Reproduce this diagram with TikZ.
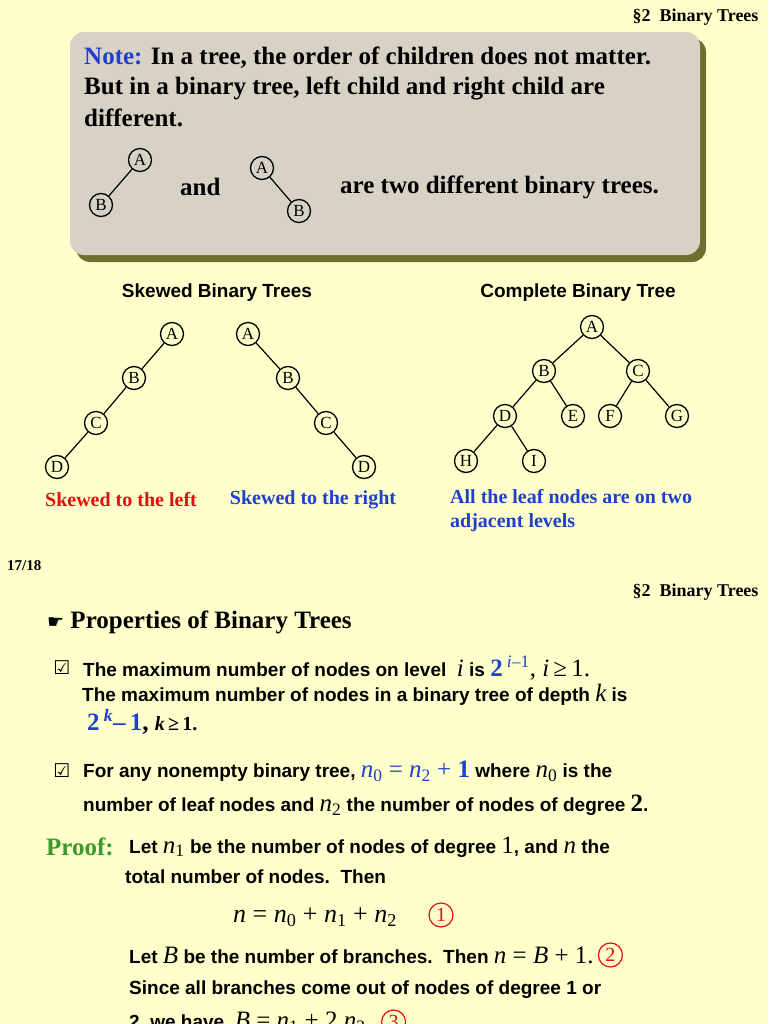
\documentclass[tikz,border=0pt]{standalone}
\usepackage{fontspec}
\setmainfont{Liberation Serif}
\setsansfont{Liberation Sans}
\newfontfamily\dejavu{DejaVu Sans}
\usetikzlibrary{positioning}
\definecolor{bgy}{HTML}{FFFFCC}
\definecolor{boxg}{HTML}{D8D2C6}
\definecolor{shad}{HTML}{6E6E2E}
\definecolor{tblue}{HTML}{1F3FD0}
\definecolor{tred}{HTML}{E01010}
\definecolor{tgreen}{HTML}{3C9A2C}
\newcommand\nsub[1]{\textit{n}\textsubscript{#1}}
\newcommand\mth{\rmfamily\mdseries\fontsize{25}{25}\selectfont}
\tikzset{
  tn/.style={circle,draw,line width=1.3pt,inner sep=0pt,minimum size=23pt,font=\fontsize{17}{17}\selectfont},
  ed/.style={line width=1.2pt},
  serb/.style={font=\fontsize{25}{27}\selectfont\bfseries,inner sep=1pt},
  sanb/.style={font=\sffamily\bfseries\fontsize{19}{21}\selectfont,inner sep=1pt},
  lab/.style={font=\bfseries\fontsize{20}{22}\selectfont},
  hdr/.style={font=\fontsize{18}{19}\selectfont\bfseries,anchor=east},
  cnum/.style={circle,draw=tred,text=tred,line width=1.2pt,inner sep=0pt,minimum size=24pt,font=\fontsize{20}{20}\selectfont}
}
\begin{document}
\begin{tikzpicture}[x=1pt,y=-1pt]
\fill[bgy] (0,0) rectangle (768,1024);
\clip (0,0) rectangle (768,1024);
\node[hdr] (h1) at (762,17) {§2\ \ Binary Trees};
\fill[shad,rounded corners=14pt] (76,38) rectangle (706,262);
\fill[boxg,rounded corners=14pt] (70,32) rectangle (700,255);
\node[serb,anchor=west] (l1) at (83,58) {\textcolor{tblue}{Note:} In a tree, the order of children does not matter.};
\node[serb,anchor=west] (l2) at (83,88) {But in a binary tree, left child and right child are};
\node[serb,anchor=west] (l3) at (83,118) {different.};
\node[tn] (a1) at (140,160) {A};
\node[tn] (b1) at (101,205) {B};
\draw[ed] (a1) -- (b1);
\node[serb,anchor=west] (and) at (179,187) {and};
\node[tn] (a2) at (262,168) {A};
\node[tn] (b2) at (299,211) {B};
\draw[ed] (a2) -- (b2);
\node[serb,anchor=west] (are) at (339,187) {are two different binary trees.};
\node[font=\sffamily\bfseries\fontsize{19}{21}\selectfont] (st) at (217,293) {Skewed Binary Trees};
\node[font=\sffamily\bfseries\fontsize{19}{21}\selectfont] (ct) at (578,293) {Complete Binary Tree};
\node[tn] (la) at (172,334) {A};
\node[tn] (lb) at (134,378) {B};
\node[tn] (lc) at (96,423) {C};
\node[tn] (ld) at (57,467) {D};
\draw[ed] (la)--(lb) (lb)--(lc) (lc)--(ld);
\node[tn] (ra) at (248,334) {A};
\node[tn] (rb) at (288,378) {B};
\node[tn] (rc) at (326,423) {C};
\node[tn] (rd) at (364,467) {D};
\draw[ed] (ra)--(rb) (rb)--(rc) (rc)--(rd);
\node[tn] (cA) at (592,327) {A};
\node[tn] (cB) at (544,371) {B};
\node[tn] (cC) at (638,371) {C};
\node[tn] (cD) at (505,416) {D};
\node[tn] (cE) at (573,416) {E};
\node[tn] (cF) at (610,416) {F};
\node[tn] (cG) at (677,416) {G};
\node[tn] (cH) at (466,461) {H};
\node[tn] (cI) at (534,461) {I};
\draw[ed] (cA)--(cB) (cA)--(cC) (cB)--(cD) (cB)--(cE) (cC)--(cF) (cC)--(cG) (cD)--(cH) (cD)--(cI);
\node[lab,text=tred] (sl) at (121,500) {Skewed to the left};
\node[lab,text=tblue] (sr) at (313,500) {Skewed to the right};
\node[lab,text=tblue,anchor=west,inner sep=1pt] (al1) at (449,497) {All the leaf nodes are on two};
\node[lab,text=tblue,anchor=west,inner sep=1pt] (al2) at (449,523) {adjacent levels};
\node[font=\bfseries\fontsize{15}{16}\selectfont,anchor=west,inner sep=1pt] (pg) at (6,566) {17/18};
\node[hdr] (h2) at (762,592) {§2\ \ Binary Trees};
\node[serb,anchor=west] (pt) at (46,622) {{\dejavu\mdseries\fontsize{19}{19}\selectfont ☛} Properties of Binary Trees};
\node[font=\dejavu\fontsize{19}{19}\selectfont] (cb1) at (62,668) {☑};
\node[sanb,anchor=west] (p1) at (82,668) {The maximum number of nodes on level \ {\mth\itshape i} is {\mth\textcolor{tblue}{\bfseries 2}\,\textsuperscript{\textcolor{tblue}{\itshape i}\textcolor{tblue}{–1}}, \textit{i}\,≥\,1.}};
\node[sanb,anchor=west] (p2) at (81,695) {The maximum number of nodes in a binary tree of depth {\mth\itshape k} is};
\node[anchor=west,inner sep=1pt,font=\bfseries\fontsize{25}{25}\selectfont] (p3) at (86,722) {\textcolor{tblue}{2\,\textsuperscript{\itshape k}–\,1},\ {\fontsize{20}{20}\selectfont\textit{k}\,≥\,1.}};
\node[font=\dejavu\fontsize{19}{19}\selectfont] (cb2) at (62,771) {☑};
\node[sanb,anchor=west] (p4) at (82,771) {For any nonempty binary tree, {\mth\textcolor{tblue}{\nsub{0} = \nsub{2} + \textbf{1}}} where {\mth\nsub{0}} is the};
\node[sanb,anchor=west] (p5) at (82,805) {number of leaf nodes and {\mth\nsub{2}} the number of nodes of degree {\mth\bfseries 2}.};
\node[serb,anchor=west,text=tgreen] (pf) at (45,847) {Proof:};
\node[sanb,anchor=west] (p6) at (128,847) {Let {\mth\nsub{1}} be the number of nodes of degree {\mth 1}, and {\mth\textit{n}} the};
\node[sanb,anchor=west] (p7) at (124,877) {total number of nodes.\ \ Then};
\node[anchor=west,inner sep=1pt,font=\fontsize{26}{26}\selectfont] (eq1) at (232,917) {\textit{n} = \nsub{0} + \nsub{1} + \nsub{2}};
\node[cnum] (c1) at (441,915) {1};
\node[sanb,anchor=west] (p8) at (128,955) {Let {\mth\textit{B}} be the number of branches.\ \ Then {\mth\textit{n} = \textit{B} + 1.}};
\node[cnum,right=3pt of p8] (c2) {2};
\node[sanb,anchor=west] (p9) at (128,990) {Since all branches come out of nodes of degree 1 or};
\node[sanb,anchor=west] (p10) at (128,1022) {2, we have \ {\mth\textit{B} = \nsub{1} + 2 \nsub{2}.}};
\node[cnum,right=8pt of p10] (c3) {3};
\end{tikzpicture}
\end{document}
